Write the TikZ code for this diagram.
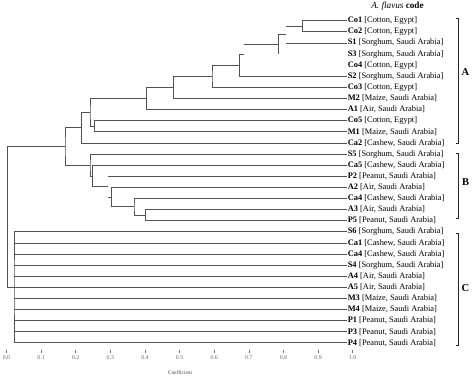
\documentclass[tikz,border=0pt]{standalone}
\usepackage{fontspec}
\setmainfont{Liberation Serif}
\begin{document}
\begin{tikzpicture}[x=1pt,y=-1pt,
  ln/.style={draw=black!68, line width=0.8pt},
  lab/.style={anchor=west, inner sep=0.6pt, font=\fontsize{8.4}{9}\selectfont},
  brk/.style={draw=black!85, line width=0.8pt},
  grp/.style={inner sep=0pt, font=\fontsize{10.5}{11}\selectfont\bfseries},
  tick/.style={draw=black!55, line width=0.5pt},
  ticklab/.style={inner sep=0pt, text=black!60, font=\fontsize{5.8}{6}\selectfont}]
\useasboundingbox (0,0) rectangle (474,378);

% header
\node[inner sep=0pt, font=\fontsize{9.2}{10}\selectfont] (head) at (397.5,6.5) {\textit{A. flavus} \textbf{code}};

% leaf labels
\foreach \c/\t [count=\i from 0] in {
  Co1/{Cotton, Egypt}, Co2/{Cotton, Egypt}, S1/{Sorghum, Saudi Arabia}, S3/{Sorghum, Saudi Arabia},
  Co4/{Cotton, Egypt}, S2/{Sorghum, Saudi Arabia}, Co3/{Cotton, Egypt}, M2/{Maize, Saudi Arabia},
  A1/{Air, Saudi Arabia}, Co5/{Cotton, Egypt}, M1/{Maize, Saudi Arabia}, Ca2/{Cashew, Saudi Arabia},
  S5/{Sorghum, Saudi Arabia}, Ca5/{Cashew, Saudi Arabia}, P2/{Peanut, Saudi Arabia}, A2/{Air, Saudi Arabia},
  Ca4/{Cashew, Saudi Arabia}, A3/{Air, Saudi Arabia}, P5/{Peanut, Saudi Arabia}, S6/{Sorghum, Saudi Arabia},
  Ca1/{Cashew, Saudi Arabia}, Ca4/{Cashew, Saudi Arabia}, S4/{Sorghum, Saudi Arabia}, A4/{Air, Saudi Arabia},
  A5/{Air, Saudi Arabia}, M3/{Maize, Saudi Arabia}, M4/{Maize, Saudi Arabia}, P1/{Peanut, Saudi Arabia},
  P3/{Peanut, Saudi Arabia}, P4/{Peanut, Saudi Arabia}} {
  \pgfmathsetmacro\yy{20.7+11.11*\i}
  \node[lab] (l\i) at (347,\yy) {\textbf{\c} [\t]};
}

% internal join points
\coordinate (n1) at (302.7,26.25);
\coordinate (n2) at (285.7,34.5);
\coordinate (n3) at (278.3,44.2);
\coordinate (n4) at (244.3,54.4);
\coordinate (n5) at (239.3,65.3);
\coordinate (n6) at (212.0,76.3);
\coordinate (n7) at (173.3,87.4);
\coordinate (n8) at (146.7,98.5);
\coordinate (n9) at (94.3,126.25);
\coordinate (n10) at (90.0,112.4);
\coordinate (n11) at (81.7,127.6);
\coordinate (n12) at (145.7,215.15);
\coordinate (n13) at (134.0,206.8);
\coordinate (n14) at (111.7,197.1);
\coordinate (n15) at (107.5,186.7);
\coordinate (n16) at (92.3,175.9);
\coordinate (n17) at (90.0,165.0);
\coordinate (n18) at (65.0,146.3);
\coordinate (n19) at (14.0,287.4);
\coordinate (root) at (7.3,216.9);

% cluster A
\draw[ln] (l0.west) -| (n1) |- (l1.west);
\draw[ln] (n1) -- (n1 -| n2);
\draw[ln] (l2.west) -- (l2.west -| n2);
\draw[ln] (n2) -| (n3) -- (n3 |- l3.west);
\draw[ln] (n3) -- (n3 -| n4);
\draw[ln] (n4) -| (n5) |- (l5.west);
\draw[ln] (n5) -| (n6) |- (l6.west);
\draw[ln] (n6) -| (n7) |- (l7.west);
\draw[ln] (n7) -| (n8) |- (l8.west);
\draw[ln] (l9.west) -| (n9) |- (l10.west);
\draw[ln] (n8) -| (n10) |- (n9);
\draw[ln] (n10) -| (n11) |- (l11.west);

% cluster B
\draw[ln] (l17.west) -| (n12) |- (l18.west);
\draw[ln] (l16.west) -| (n13) |- (n12);
\draw[ln] (l15.west) -| (n14) |- (n13);
\draw[ln] (l14.west) -- (l14.west -| n15);
\draw[ln] (n14) -- (n14 -| n15);
\draw[ln] (l13.west) -| (n16) |- (n15);
\draw[ln] (l12.west) -| (n17) |- (n16);

% A + B
\draw[ln] (n11) -| (n18) |- (n17);

% cluster C
\draw[ln] (l19.west) -| (n19) |- (l29.west);
\foreach \i in {20,...,28} { \draw[ln] (l\i.west) -- (l\i.west -| n19); }

% root
\draw[ln] (n18) -| (root) |- (n19);

% axis
\foreach \v [count=\k from 0] in {0.0,0.1,0.2,0.3,0.4,0.5,0.6,0.7,0.8,0.9,1.0} {
  \pgfmathsetmacro\xx{6.5+34.62*\k}
  \coordinate (tt\k) at (\xx,349.5);
  \draw[tick] (tt\k) -- ++(0,3.5);
  \node[ticklab] (t\k) at (\xx,357.8) {\v};
}
\node[inner sep=0pt, font=\fontsize{5.4}{6}\selectfont, text=black!70] (coef) at (180,372.5) {Coefficient};

% group brackets
\draw[brk] (455.8,18.5) -- (458.3,18.5) -- (458.3,143) -- (455.8,143);
\draw[brk] (455.8,153.5) -- (458.3,153.5) -- (458.3,218) -- (455.8,218);
\draw[brk] (455.8,233) -- (458.3,233) -- (458.3,345) -- (455.8,345);
\node[grp] (gA) at (465.5,72) {A};
\node[grp] (gB) at (465.5,182.5) {B};
\node[grp] (gC) at (465.5,288) {C};
\end{tikzpicture}
\end{document}
